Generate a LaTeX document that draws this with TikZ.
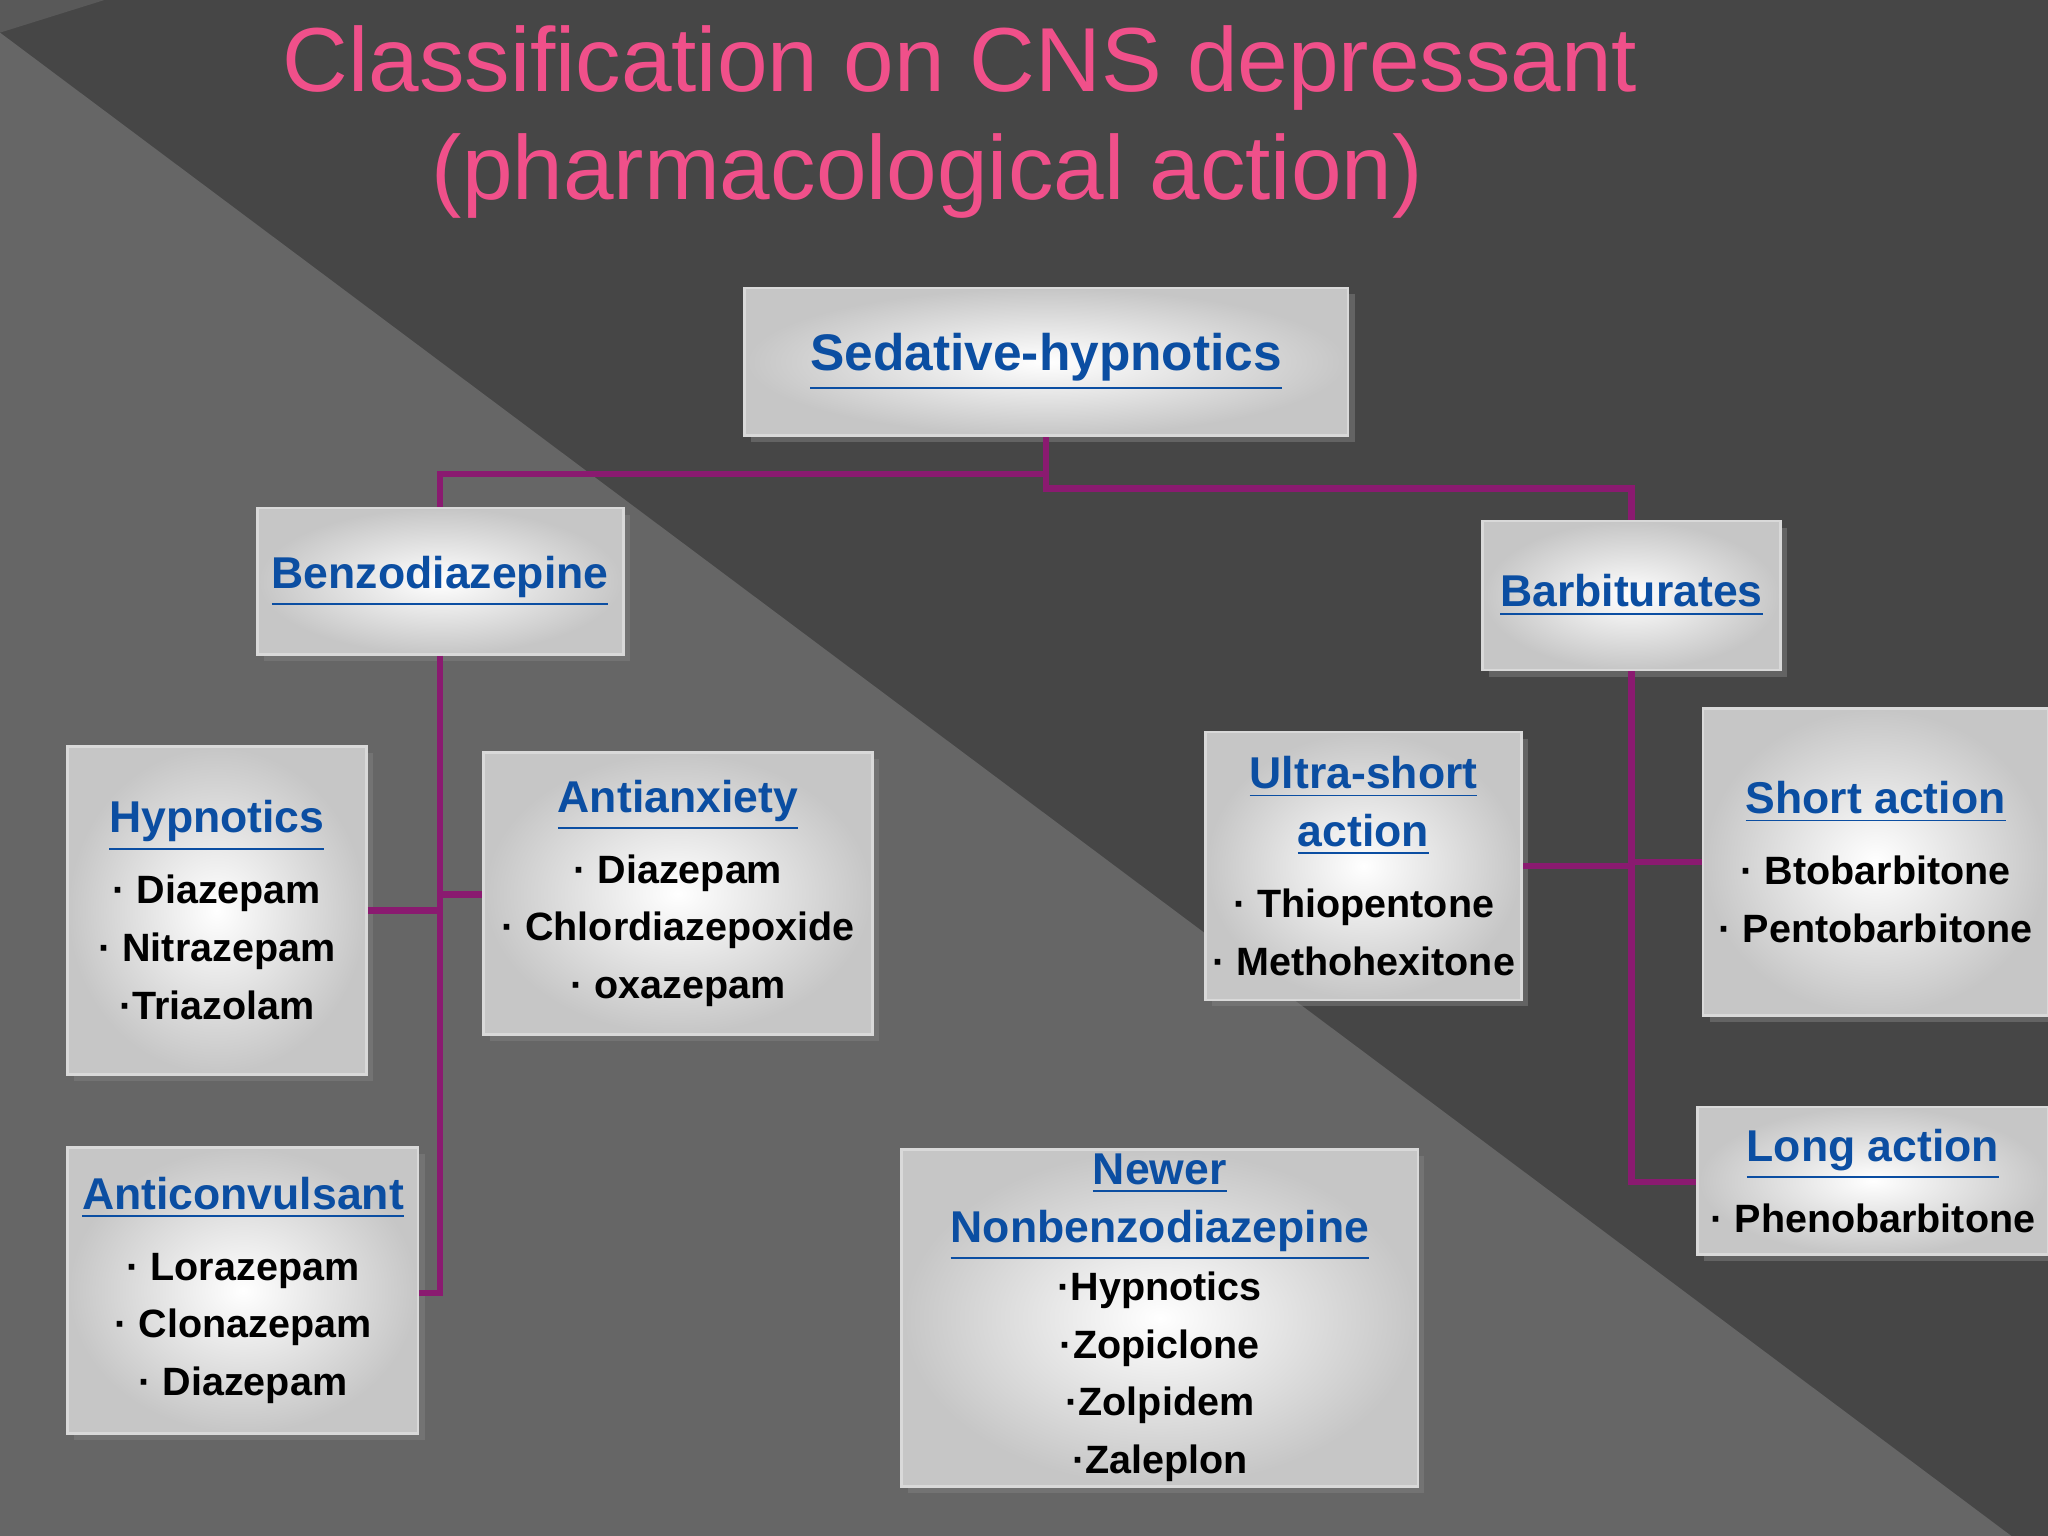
\documentclass[tikz,border=0pt]{standalone}
\usepackage{fontspec}
\setmainfont{Liberation Sans}
\usetikzlibrary{positioning,shadows}
\definecolor{hblue}{HTML}{0B4EA2}
\definecolor{tpink}{HTML}{F0508A}
\definecolor{link}{HTML}{8A1A70}
\newcommand{\hd}[1]{{\color{hblue}\bfseries\underline{#1}}}
\begin{document}
\begin{tikzpicture}[x=0.01cm,y=-0.01cm,
  box/.style={rectangle, inner color=white, outer color=gray!45,
    draw=gray!30, line width=0.6pt, inner sep=1pt,
    drop shadow={opacity=0.5, shadow xshift=0.05cm, shadow yshift=-0.05cm},
    align=center, font=\fontsize{8.6}{12.6}\selectfont\bfseries},
  hsize/.style={font=\fontsize{9.7}{12}\selectfont},
  link/.style={draw=link, line width=1.4pt}
]
\useasboundingbox (0,0) rectangle (1568,1176);
% background
\fill[gray!55!black] (0,0) rectangle (1568,1176);
\fill[gray!80!black] (0,25) -- (1540,1176) -- (0,1176) -- cycle;
\fill[gray!70!black] (0,0) -- (80,0) -- (0,25) -- cycle;

% title
\node[text=tpink, font=\fontsize{19.8}{22}\selectfont] (t1) at (735,52) {Classification on CNS depressant};
\node[text=tpink, font=\fontsize{19.8}{22}\selectfont] (t2) at (710,135) {(pharmacological action)};

% =====================================================
% TOP LEVEL
% =====================================================
\node[box, minimum width=4.62cm, minimum height=1.13cm, font=\fontsize{11.2}{12}\selectfont] (sed) at (801,277) {\hd{Sedative-hypnotics}};
\node[box, minimum width=2.8cm, minimum height=1.12cm, hsize] (benzo) at (337,445) {\hd{Benzodiazepine}};
\node[box, minimum width=2.28cm, minimum height=1.14cm, hsize] (barb) at (1249,456) {\hd{Barbiturates}};

\draw[link] (sed.south) -- (801,363) -- (337,363) -- (benzo.north);
\draw[link] (sed.south) -- (801,374) -- (1249,374) -- (barb.north);

% =====================================================
% BENZODIAZEPINE
% =====================================================
\node[box, minimum width=2.29cm, minimum height=2.51cm] (hyp) at (166,697)
{\hd{\fontsize{9.7}{12}\selectfont Hypnotics}\\[1mm] · Diazepam\\ · Nitrazepam\\ ·Triazolam};
\node[box, minimum width=2.98cm, minimum height=2.16cm] (anx) at (519,684)
{\hd{\fontsize{9.7}{12}\selectfont Antianxiety}\\[1mm] · Diazepam\\ · Chlordiazepoxide\\ · oxazepam};
\node[box, minimum width=2.68cm, minimum height=2.19cm] (conv) at (186,988)
{\hd{\fontsize{9.7}{12}\selectfont Anticonvulsant}\\[1mm] · Lorazepam\\ · Clonazepam\\ · Diazepam};

\coordinate (bend) at (337,990);
\draw[link] (benzo.south) -- (bend) -- (conv.east |- bend);
\draw[link] (hyp.east |- 0,697) -- (337,697);
\draw[link] (337,685) -- (anx.west |- 0,685);

% =====================================================
% NEWER
% =====================================================
\node[box, minimum width=3.95cm, minimum height=2.52cm] (newer) at (888,1009)
{\hd{\fontsize{9.7}{12}\selectfont Newer}\\ \hd{\fontsize{9.7}{12}\selectfont Nonbenzodiazepine}\\ ·Hypnotics\\ ·Zopiclone\\ ·Zolpidem\\ ·Zaleplon};

% =====================================================
% BARBITURATES
% =====================================================
\node[box, minimum width=2.42cm, minimum height=2.05cm] (ultra) at (1044,663)
{\hd{\fontsize{9.7}{12}\selectfont Ultra-short}\\ \hd{\fontsize{9.7}{12}\selectfont action}\\[1mm] · Thiopentone\\ · Methohexitone};
\node[box, minimum width=2.64cm, minimum height=2.35cm] (short) at (1436,660)
{\hd{\fontsize{9.7}{12}\selectfont Short action}\\[1mm] · Btobarbitone\\ · Pentobarbitone};
\node[box, minimum width=2.68cm, minimum height=1.13cm] (long) at (1434,904)
{\hd{\fontsize{9.7}{12}\selectfont Long action}\\[1mm] · Phenobarbitone};

\coordinate (rend) at (1249,905);
\draw[link] (barb.south) -- (rend) -- (long.west |- rend);
\draw[link] (ultra.east |- 0,663) -- (1249,663);
\draw[link] (1249,660) -- (short.west |- 0,660);
\end{tikzpicture}
\end{document}
